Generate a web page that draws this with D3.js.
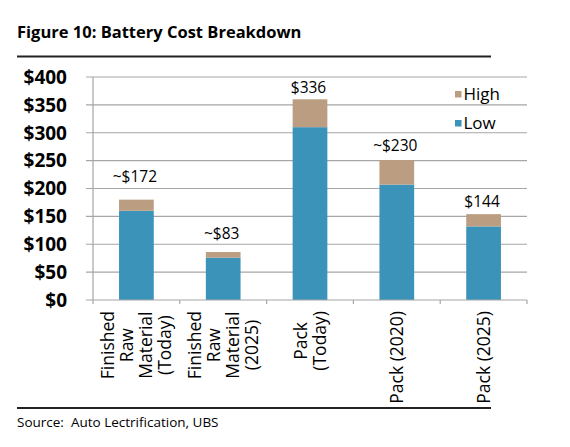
<!DOCTYPE html>
<html><head><meta charset="utf-8">
<script src="https://cdn.jsdelivr.net/npm/d3@7"></script>
<style>
html,body{margin:0;padding:0;background:#fff;}
text{font-family:"Open Sans",sans-serif;fill:#000;}
</style></head>
<body><svg id="c" width="570" height="447"></svg>
<script>
const categoryLines = [
  ["Finished","Raw","Material","(Today)"],
  ["Finished","Raw","Material","(2025)"],
  ["Pack","(Today)"],
  ["Pack (2020)"],
  ["Pack (2025)"]
];
const categories = categoryLines.map(l => l.join(" "));
const lowValues  = [160, 76, 310, 207, 132];
const highValues = [20, 10, 50, 44, 22];
const labelTexts = ["~$172", "~$83", "$336", "~$230", "$144"];
const labelValues = [212, 110, 371, 268, 166];
const yTicks = [0, 50, 100, 150, 200, 250, 300, 350, 400];
const seriesNames = ["High", "Low"];
const colors = {Low: "#3b93b9", High: "#bb9d81"};

(function(){
const svg = d3.select("#c");
const pL = 93, pR = 527, pT = 77, pB = 300;

const x = d3.scaleBand().domain(categories).range([pL, pR]).paddingInner(0.6).paddingOuter(0.3);
const y = d3.scaleLinear().domain([0, 400]).range([pB, pT]);

// title
svg.append("text").attr("x", 17).attr("y", 38).attr("font-weight", "bold").attr("font-size", 16.5)
  .text("Figure 10: Battery Cost Breakdown");
svg.append("line").attr("x1", 17).attr("x2", 491).attr("y1", 56.5).attr("y2", 56.5)
  .attr("stroke", "#222").attr("stroke-width", 2);

// gridlines
svg.append("g").selectAll("line").data(yTicks.filter(d => d > 0)).join("line")
  .attr("x1", pL - 7).attr("x2", pR).attr("y1", d => y(d)).attr("y2", d => y(d))
  .attr("stroke", "#a6a6a6").attr("stroke-width", 1.2);

// y axis labels
svg.append("g").selectAll("text").data(yTicks).join("text")
  .attr("x", 67).attr("y", d => y(d)).attr("dy", "0.36em").attr("text-anchor", "end")
  .attr("font-size", 19).attr("font-weight", "bold")
  .text(d => "$" + d);

// bars
const stacked = categories.map((c, i) => ({c, low: lowValues[i], high: highValues[i]}));
const g = svg.append("g");
g.selectAll("rect.low").data(stacked).join("rect").attr("class", "low")
  .attr("x", d => x(d.c)).attr("width", x.bandwidth())
  .attr("y", d => y(d.low)).attr("height", d => y(0) - y(d.low)).attr("fill", colors.Low);
g.selectAll("rect.high").data(stacked).join("rect").attr("class", "high")
  .attr("x", d => x(d.c)).attr("width", x.bandwidth())
  .attr("y", d => y(d.low + d.high)).attr("height", d => y(d.low) - y(d.low + d.high)).attr("fill", colors.High);

// axes lines
svg.append("line").attr("x1", pL).attr("x2", pL).attr("y1", pT).attr("y2", pB)
  .attr("stroke", "#a6a6a6").attr("stroke-width", 1.2);
svg.append("line").attr("x1", pL - 7).attr("x2", pR).attr("y1", pB).attr("y2", pB)
  .attr("stroke", "#a6a6a6").attr("stroke-width", 1.2);
const step = x.step();
svg.append("g").selectAll("line").data(d3.range(categories.length + 1)).join("line")
  .attr("x1", i => pL + i * step).attr("x2", i => pL + i * step)
  .attr("y1", pB).attr("y2", pB + 4)
  .attr("stroke", "#a6a6a6").attr("stroke-width", 1.2);

// value labels
svg.append("g").selectAll("text").data(labelTexts).join("text")
  .attr("x", (d, i) => x(categories[i]) + x.bandwidth() / 2 - 1.5)
  .attr("y", (d, i) => y(labelValues[i]))
  .attr("text-anchor", "middle").attr("font-size", 15.5)
  .text(d => d);

// category labels
const lineH = 19;
categoryLines.forEach((lines, i) => {
  const cx = x(categories[i]) + x.bandwidth() / 2;
  const lg = svg.append("g").attr("transform", `translate(${cx},311) rotate(-90)`);
  const ts = lines.map((t, j) => lg.append("text")
    .attr("y", (j - (lines.length - 1) / 2) * lineH).attr("dy", "0.35em")
    .attr("text-anchor", "middle").attr("font-size", 17.5).text(t));
  const W = d3.max(ts, t => t.node().getComputedTextLength());
  ts.forEach(t => t.attr("x", -W / 2));
});

// legend
const leg = svg.append("g");
seriesNames.forEach((s, i) => {
  const yy = 94 + i * 29;
  leg.append("rect").attr("x", 455).attr("y", yy - 3).attr("width", 6.5).attr("height", 6.5).attr("fill", colors[s]);
  leg.append("text").attr("x", 463.5).attr("y", yy).attr("dy", "0.36em").attr("font-size", 17).text(s);
});

// bottom rule and source
svg.append("line").attr("x1", 17).attr("x2", 491).attr("y1", 408).attr("y2", 408)
  .attr("stroke", "#222").attr("stroke-width", 2);
svg.append("text").attr("x", 17).attr("y", 427).attr("font-size", 13.5)
  .text("Source:\u00a0 Auto Lectrification, UBS");
})();
</script></body></html>
